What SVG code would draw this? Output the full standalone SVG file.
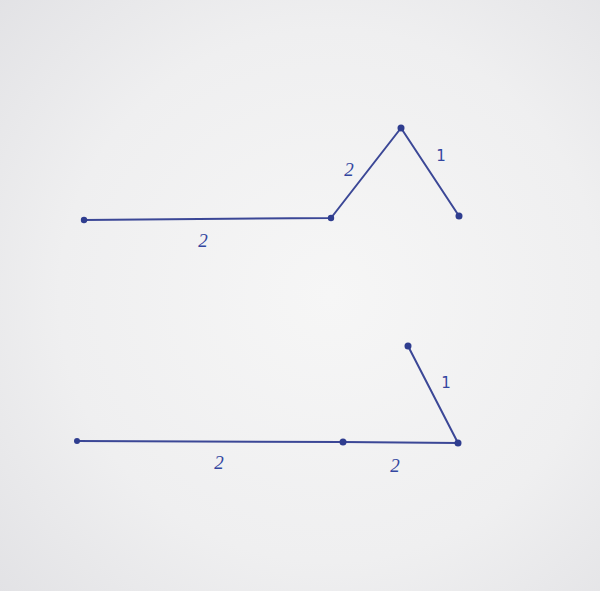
<svg xmlns="http://www.w3.org/2000/svg" width="600" height="591" viewBox="0 0 600 591">
<defs>
<radialGradient id="bg" cx="0.55" cy="0.5" r="0.75">
<stop offset="0" stop-color="#f6f6f6"/>
<stop offset="0.6" stop-color="#efeff0"/>
<stop offset="1" stop-color="#e2e2e5"/>
</radialGradient>
<style>
.ln{stroke:#3b4796;stroke-width:2;fill:none;stroke-linecap:round;stroke-linejoin:round}
.pt{fill:#2f3d8f}
.lb{font-family:"Liberation Serif",serif;font-style:italic;font-size:19px;fill:#3346a0;text-anchor:middle}
.one{font-family:"DejaVu Sans",sans-serif;font-style:normal;font-size:15px}
</style>
</defs>
<rect width="600" height="591" fill="url(#bg)"/>
<g id="connectors">
<polyline class="ln" points="84,220 331,218 401,128 459,216"/>
<polyline class="ln" points="77,441 343,442 458,443 408,346"/>
</g>
<g id="top-a"><circle class="pt" cx="84" cy="220" r="3.2"/></g>
<g id="top-b"><circle class="pt" cx="331" cy="218" r="3.2"/></g>
<g id="top-c"><circle class="pt" cx="401" cy="128" r="3.5"/></g>
<g id="top-d"><circle class="pt" cx="459" cy="216" r="3.5"/></g>
<g id="bot-a"><circle class="pt" cx="77" cy="441" r="3"/></g>
<g id="bot-b"><circle class="pt" cx="343" cy="442" r="3.5"/></g>
<g id="bot-c"><circle class="pt" cx="458" cy="443" r="3.5"/></g>
<g id="bot-d"><circle class="pt" cx="408" cy="346" r="3.5"/></g>
<g id="labels">
<text class="lb" x="203" y="247">2</text>
<text class="lb" x="349" y="176">2</text>
<text class="lb one" x="441" y="161">1</text>
<text class="lb" x="219" y="469">2</text>
<text class="lb" x="395" y="472">2</text>
<text class="lb one" x="446" y="388">1</text>
</g>
</svg>
